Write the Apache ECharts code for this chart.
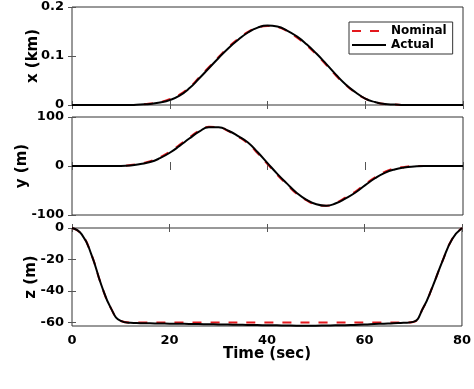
<!DOCTYPE html>
<html>
<head>
<meta charset="utf-8">
<script src="https://cdn.jsdelivr.net/npm/echarts@6/dist/echarts.min.js"></script>
<style>
html,body{margin:0;padding:0;background:#fff;}
#chart{width:474px;height:389px;}
</style>
</head>
<body>
<div id="chart"></div>
<script>
// ---- data ----
var timeSec = [0,2,4,6,8,10,12,14,16,18,20,22,24,26,28,30,32,34,36,38,40,42,44,46,48,50,52,54,56,58,60,62,64,66,68,70,72,74,76,78,80];

var xNominal = [0,0,0,0,0,0,0,0.001,0.003,0.006,0.012,0.021,0.036,0.056,0.077,0.098,0.118,0.135,0.149,0.158,0.161,0.159,0.151,0.138,0.122,0.103,0.082,0.060,0.041,0.025,0.013,0.006,0.002,0.001,0,0,0,0,0,0,0];
var xActual  = [0,0,0,0,0,0,0,0.001,0.002,0.005,0.010,0.019,0.034,0.054,0.075,0.096,0.116,0.133,0.148,0.158,0.162,0.160,0.152,0.140,0.124,0.105,0.084,0.062,0.042,0.026,0.013,0.006,0.002,0.001,0,0,0,0,0,0,0];

var yNominal = [0,0,0,0,0,0,2,5,10,18,29,43,58,72,80,79,71,60,46,26,4,-18,-38,-57,-70,-79,-81,-75,-64,-52,-37,-23,-12,-5,-2,0,0,0,0,0,0];
var yActual  = [0,0,0,0,0,0,1,4,8,16,27,41,56,70,79,79,72,61,48,28,6,-16,-36,-55,-69,-78,-81,-76,-66,-54,-39,-25,-14,-7,-3,-1,0,0,0,0,0];

var zNominal = [0,-4,-17,-36,-51,-59,-60,-60,-60,-60,-60,-60,-60,-60,-60,-60,-60,-60,-60,-60,-60,-60,-60,-60,-60,-60,-60,-60,-60,-60,-60,-60,-60,-60,-60,-59.6,-51,-37,-21,-7,0];
var zActual  = [0,-4,-17,-36,-51,-59,-60.2,-60.4,-60.5,-60.6,-60.7,-60.8,-60.9,-61.0,-61.1,-61.2,-61.3,-61.4,-61.5,-61.6,-61.7,-61.8,-61.9,-62.0,-62.0,-62.0,-61.9,-61.8,-61.7,-61.5,-61.3,-61.0,-60.7,-60.4,-60.2,-59.6,-51,-37,-21,-7,0];

var timeTicks = [0,20,40,60,80];
var zTicks = [-60,-40,-20,0];

// ---- chart ----
function pairs(vals){ return timeSec.map(function(t,i){ return [t, vals[i]]; }); }

var FONT = 'DejaVu Sans';
var tickStyle = {inside:true, length:4, lineStyle:{color:'#555', width:1}};
var labelStyle = {color:'#000', fontWeight:'bold', fontSize:13, fontFamily:FONT};
var nameStyle = {color:'#000', fontWeight:'bold', fontSize:15, fontFamily:FONT};

var grids = [
  {left:72, right:11, top:7, height:98},
  {left:72, right:11, top:117, height:98},
  {left:72, right:11, top:228, height:98}
];
grids.forEach(function(g){ g.show = true; g.borderColor = '#333'; g.borderWidth = 1; g.backgroundColor = 'transparent'; });

var xAxes = [], yAxes = [];
for (var i = 0; i < 3; i++) {
  xAxes.push({
    type:'value', gridIndex:i, min:0, max:80, interval:20, position:'bottom',
    axisLine:{show:false}, axisTick:tickStyle, splitLine:{show:false},
    axisLabel: i === 2 ? Object.assign({margin:8}, labelStyle) : {show:false},
    name: i === 2 ? 'Time (sec)' : '', nameLocation:'middle', nameGap:21,
    nameMoveOverlap:false, nameTextStyle:nameStyle
  });
  xAxes.push({
    type:'value', gridIndex:i, min:0, max:80, interval:20, position:'top',
    axisLine:{show:false}, axisTick:tickStyle, splitLine:{show:false}, axisLabel:{show:false}
  });
}

var yDefs = [
  {min:0, max:0.2, interval:0.1, name:'x (km)', gap:31},
  {min:-100, max:100, interval:100, name:'y (m)', gap:42},
  {min:-62.2, max:0, name:'z (m)', gap:33, custom:zTicks}
];
yDefs.forEach(function(d, i){
  var left = {
    type:'value', gridIndex:i, min:d.min, max:d.max, position:'left',
    axisLine:{show:false}, splitLine:{show:false},
    axisTick:Object.assign({}, tickStyle),
    axisLabel:Object.assign({margin:8}, labelStyle),
    name:d.name, nameLocation:'middle', nameGap:d.gap, nameMoveOverlap:false,
    nameTextStyle:nameStyle
  };
  var right = {
    type:'value', gridIndex:i, min:d.min, max:d.max, position:'right',
    axisLine:{show:false}, splitLine:{show:false},
    axisTick:Object.assign({}, tickStyle), axisLabel:{show:false}
  };
  if (d.interval !== undefined) { left.interval = d.interval; right.interval = d.interval; }
  if (d.custom) {
    left.axisTick.customValues = d.custom; left.axisLabel.customValues = d.custom;
    right.axisTick.customValues = d.custom;
  }
  yAxes.push(left); yAxes.push(right);
});

var RED = '#e3181d';
function nominalSeries(vals, gi){
  return {name:'Nominal', type:'line', xAxisIndex:gi*2, yAxisIndex:gi*2, data:pairs(vals),
    symbol:'none', smooth:0.5, z:2,
    lineStyle:{color:RED, width:2, type:[9,9]}, itemStyle:{color:RED}};
}
function actualSeries(vals, gi){
  return {name:'Actual', type:'line', xAxisIndex:gi*2, yAxisIndex:gi*2, data:pairs(vals),
    symbol:'none', smooth:0.5, z:3,
    lineStyle:{color:'#000', width:2}, itemStyle:{color:'#000'}};
}

var option = {
  animation:false,
  backgroundColor:'#fff',
  grid:grids,
  xAxis:xAxes,
  yAxis:yAxes,
  legend:{
    data:['Nominal','Actual'], orient:'vertical', left:349, top:22,
    padding:[3,6,3,2], itemGap:2, itemWidth:34, itemHeight:12,
    itemStyle:{opacity:0},
    borderColor:'#333', borderWidth:1, backgroundColor:'#fff',
    textStyle:{color:'#000', fontWeight:'bold', fontSize:12, fontFamily:FONT}
  },
  series:[
    nominalSeries(xNominal,0), actualSeries(xActual,0),
    nominalSeries(yNominal,1), actualSeries(yActual,1),
    nominalSeries(zNominal,2), actualSeries(zActual,2)
  ]
};

var chart = echarts.init(document.getElementById('chart'), null, {renderer:'canvas'});
chart.setOption(option);
</script>
</body>
</html>
